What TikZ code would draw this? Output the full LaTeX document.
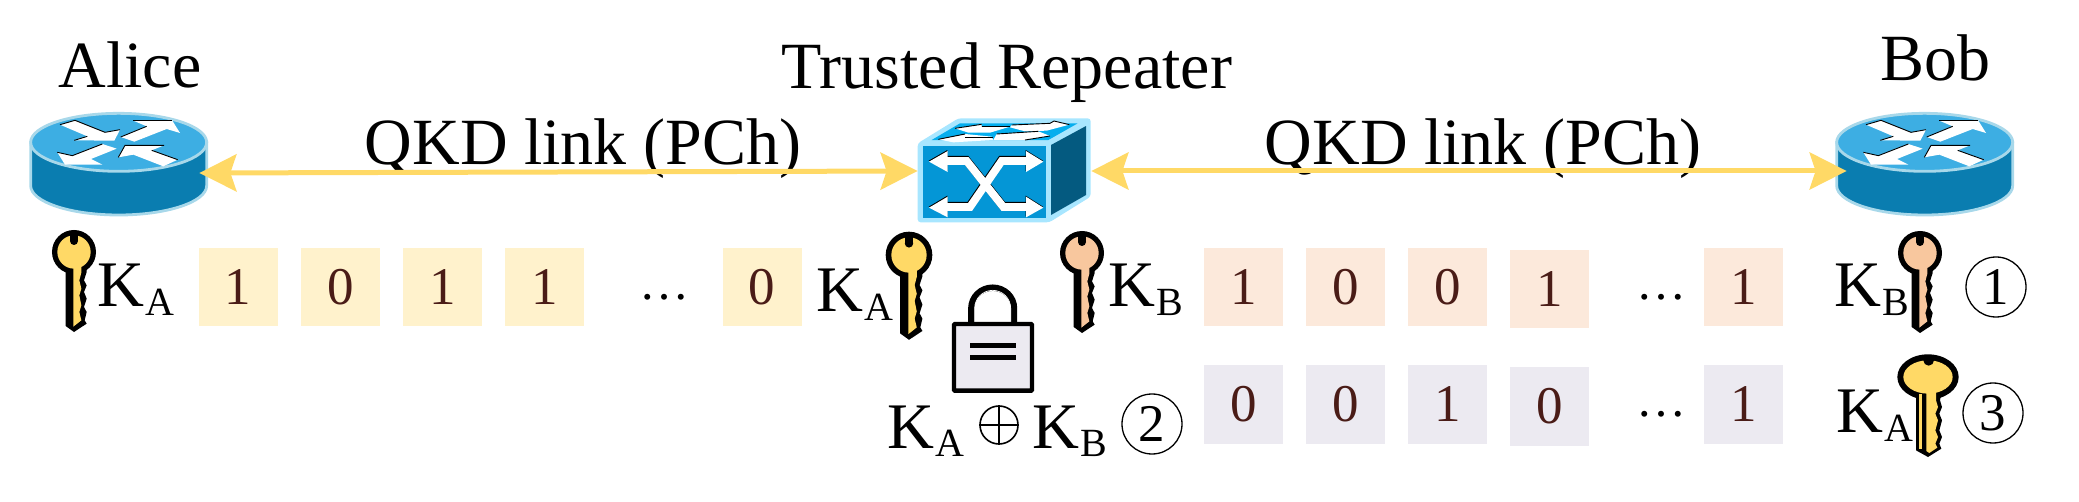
\documentclass[tikz,border=0pt]{standalone}
\usepackage{fontspec}
\setmainfont{Liberation Serif}
\usetikzlibrary{arrows.meta}
\definecolor{keyY}{HTML}{FFD966}
\definecolor{keyO}{HTML}{F8C79E}
\definecolor{boxY}{HTML}{FFF2CC}
\definecolor{boxO}{HTML}{FCE9DB}
\definecolor{boxP}{HTML}{ECEAF1}
\definecolor{digit}{HTML}{4A1C17}
\definecolor{rTop}{HTML}{3DAEE3}
\definecolor{rSide}{HTML}{0A7DB0}
\definecolor{rEdge}{HTML}{A8D8EA}
\definecolor{sEdge}{HTML}{A8E6FF}
\definecolor{sFront}{HTML}{0496D6}
\definecolor{sRight}{HTML}{045A80}
\definecolor{sTop}{HTML}{05AEEE}
\tikzset{
  bigtext/.style={font=\fontsize{33}{36}\selectfont,anchor=base,inner sep=0pt},
  keytext/.style={font=\fontsize{32.5}{36}\selectfont,anchor=base west,inner sep=0pt},
  bitbox/.style={minimum width=39.5pt,minimum height=39pt,inner sep=0pt,text=digit,font=\fontsize{26.5}{30}\selectfont},
  dotstext/.style={font=\fontsize{25}{30}\selectfont,anchor=base,inner sep=0pt},
  circnum/.style={circle,draw=black,line width=0.65pt,minimum size=30pt,inner sep=0pt,font=\fontsize{26.5}{30}\selectfont},
  anchorbox/.style={inner sep=0pt,rectangle},
  link/.style={draw=keyY,line width=2.5pt,{Stealth[length=18.5pt,width=18.5pt,inset=3pt]}-{Stealth[length=18.5pt,width=18.5pt,inset=3pt]}},
  edgeline/.style={draw=black,line width=0.45pt},
}
\newcommand{\KSub}[1]{K\kern0.5pt\raisebox{-4.5pt}{\fontsize{20}{22}\selectfont #1}}
\newcommand{\routericon}[1]{%
\begin{scope}[shift={(#1,20)},x=0.16667pt,y=-0.16667pt]
  \draw[rEdge,fill=rSide,line width=1.4pt] (92,367) -- (92,497) arc[start angle=180,end angle=0,x radius=264,y radius=88] -- (620,367) -- cycle;
  \draw[rEdge,fill=rTop,line width=1.4pt] (356,367) ellipse[x radius=264,y radius=87];
  \begin{scope}[shift={(75,264)}]
    \fill[white] (105,50)--(150,37)--(240,73)--(285,65)--(268,98)--(148,97)--(187,85)--cycle;
    \fill[white] (287,87)--(365,55)--(325,38)--(442,38)--(465,75)--(425,63)--(328,101)--cycle;
    \fill[white] (97,133)--(142,143)--(232,108)--(275,122)--(198,153)--(232,170)--(120,170)--cycle;
    \fill[white] (280,148)--(300,112)--(417,112)--(380,127)--(458,155)--(415,175)--(325,140)--cycle;
    \draw[edgeline] (105,50)--(150,37)--(240,73)--(285,65);
    \draw[edgeline] (148,97)--(187,85);
    \draw[edgeline] (287,87)--(365,55);
    \draw[black,line width=0.8pt] (325,38)--(442,38);
    \draw[edgeline] (97,133)--(142,143)--(232,108);
    \draw[edgeline] (280,148)--(300,112)--(417,112);
    \draw[edgeline] (380,127)--(458,155);
  \end{scope}
\end{scope}}
\newcommand{\keyicon}[4]{%
\begin{scope}[shift={(#1,#2)},x={#3*0.16667pt},y={-#3*0.16667pt}]
  \fill[black] (0,0) circle[radius=66];
  \fill[black] (-25,40)--(-25,222)--(0,240)--(38,215)--(32,205)--(38,180)--(30,165)--(38,140)--(30,120)--(38,100)--(30,85)--(38,60)--(38,40)--cycle;
  \fill[#4] (0,0) circle[radius=50];
  \fill[#4] (-2,45)--(-2,224)--(22,205)--(16,180)--(22,160)--(16,130)--(22,110)--(16,85)--(22,62)--(22,45)--cycle;
  \fill[black] (-12,-60) rectangle (12,-33);
  \fill[black] (0,-33) circle[radius=12];
\end{scope}}
\begin{document}
\begin{tikzpicture}[x=0.5pt,y=-0.5pt]
\useasboundingbox (0,0) rectangle (2079,502);
% labels
\node[bigtext] (alicename) at (130,88) {Alice};
\node[bigtext] (repname) at (1007,89) {Trusted Repeater};
\node[bigtext] (bobname) at (1935,81) {Bob};
\node[bigtext] (qkdone) at (583,165) {QKD link (PCh)};
\node[bigtext] (qkdtwo) at (1483,165) {QKD link (PCh)};
% routers
\routericon{0}
\routericon{1806}
\node[anchorbox,minimum width=88.5pt,minimum height=51pt] (alice) at (118.5,164) {};
\node[anchorbox,minimum width=88pt,minimum height=51pt] (bob) at (1924,164) {};
% switch
\begin{scope}[shift={(780,20)},x=0.16667pt,y=-0.16667pt]
  \fill[sEdge,rounded corners=1.5pt] (413,370)--(535,295)--(932,295)--(932,530)--(808,607)--(413,607)--cycle;
  \fill[sFront] (430,378) rectangle (798,593);
  \fill[sRight] (813,375)--(918,318)--(918,525)--(813,585)--cycle;
  \fill[sTop] (455,360)--(540,310)--(893,310)--(805,360)--cycle;
  \begin{scope}[shift={(390,270)}]
    \fill[white] (135,55)--(215,43)--(215,50)--(300,50)--(240,68)--(175,68)--cycle;
    \fill[white] (305,45)--(420,40)--(432,33)--(478,44)--(410,62)--(345,64)--(300,52)--cycle;
    \fill[white] (85,88)--(165,72)--(245,80)--(250,90)--(130,97)--cycle;
    \fill[white] (260,72)--(385,64)--(420,78)--(345,90)--(250,90)--cycle;
    \draw[edgeline] (135,55)--(215,43);
    \draw[edgeline] (215,50)--(300,50);
    \draw[edgeline] (305,45)--(420,40)--(432,33)--(478,44);
    \draw[edgeline] (85,88)--(165,72);
    \draw[edgeline] (165,82)--(250,82);
    \draw[edgeline] (260,72)--(385,64);
    \draw[edgeline] (345,90)--(420,78);
  \end{scope}
  % front arrows: shadow
  \begin{scope}[shift={(-1,-3)}]
    \fill[black] (447,425)--(503,393)--(503,456)--cycle;
    \fill[black] (790,425)--(738,393)--(738,456)--cycle;
    \fill[black] (447,563)--(503,530)--(503,592)--cycle;
    \fill[black] (790,563)--(738,530)--(738,592)--cycle;
    \draw[black,line width=4.1pt,miter limit=2] (500,423)--(560,423)--(670,561)--(740,561);
    \draw[black,line width=4.1pt,miter limit=2] (500,561)--(570,561)--(665,423)--(740,423);
  \end{scope}
  \fill[white] (447,425)--(503,393)--(503,456)--cycle;
  \fill[white] (790,425)--(738,393)--(738,456)--cycle;
  \fill[white] (447,563)--(503,530)--(503,592)--cycle;
  \fill[white] (790,563)--(738,530)--(738,592)--cycle;
  \draw[white,line width=3.9pt,miter limit=2] (500,423)--(560,423)--(670,561)--(740,561);
  \draw[white,line width=3.9pt,miter limit=2] (500,561)--(570,561)--(665,423)--(740,423);
\end{scope}
\node[anchorbox,minimum width=86.5pt,minimum height=52pt] (repeater) at (1004.5,170) {};
% links
\draw[link] ([xshift=-4pt,yshift=-4.5pt]alice.east) -- ([yshift=-0.5pt]repeater.west);
\draw[link] ([yshift=-0.5pt]repeater.east) -- ([xshift=5.5pt,yshift=-3.5pt]bob.west);
% keys
\keyicon{74}{252}{1}{keyY}
\keyicon{909}{255}{1.06}{keyY}
\keyicon{1082}{253}{1}{keyO}
\keyicon{1920}{253}{1}{keyO}
\begin{scope}[shift={(1928,377)},x=0.16667pt,y=-0.16667pt]
  \fill[black] (0,0) ellipse[x radius=92,y radius=68];
  \fill[black] (-36,40)--(-36,220)--(0,240)--(40,215)--(34,200)--(42,180)--(34,160)--(42,130)--(34,110)--(42,90)--(36,70)--(42,40)--cycle;
  \fill[keyY] (0,0) ellipse[x radius=74,y radius=50];
  \fill[keyY] (-5,40)--(-5,222)--(4,228)--(28,212)--(22,200)--(30,180)--(22,160)--(30,130)--(22,110)--(30,90)--(24,70)--(24,40)--cycle;
  \fill[keyY] (-28,50) rectangle (-18,215);
  \fill[black] (2,-50) circle[radius=16];
\end{scope}
% lock
\begin{scope}[shift={(780,20)},x=0.16667pt,y=-0.16667pt]
  \draw[black,line width=3.2pt] (574,912)--(574,865) arc[start angle=180,end angle=360,x radius=64,y radius=62]--(702,912);
  \draw[white,line width=0.35pt] (584,910)--(584,865) arc[start angle=180,end angle=360,x radius=54,y radius=54]--(692,910);
  \draw[black,line width=2.2pt,fill=boxP,rounded corners=0.5pt] (522,912) rectangle (756,1112);
  \draw[black,line width=2.8pt] (570,977)--(708,977);
  \draw[black,line width=2.8pt] (570,1012)--(708,1012);
\end{scope}
% key labels
\node[keytext] (ka1) at (97,307) {\KSub{A}};
\node[keytext] (ka2) at (816,312) {\KSub{A}};
\node[keytext] (kb1) at (1108,307) {\KSub{B}};
\node[keytext] (kb2) at (1834,307) {\KSub{B}};
\node[keytext] (ka3) at (1836,432) {\KSub{A}};
\node[keytext] (ka4) at (887,448) {\KSub{A}};
\node[keytext] (kb3) at (1032,448) {\KSub{B}};
\node[circle,minimum size=19.5pt,inner sep=0pt] (xorsym) at (999,425) {};
\draw[black,line width=0.8pt] (xorsym.north) -- (xorsym.south);
\draw[black,line width=0.8pt] (xorsym.west) -- (xorsym.east);
\draw[black,line width=0.8pt] (xorsym.center) circle[radius=19];
\node[circnum] (stepone) at (1996,287) {1};
\node[circnum] (steptwo) at (1152,424) {2};
\node[circnum] (stepthree) at (1993,413) {3};
% bit rows
\foreach \x/\d [count=\i] in {238/1,340.5/0,442.5/1,544.5/1,762/0}
  \node[bitbox,fill=boxY] (ya\i) at (\x,287.5) {\d};
\foreach \x/\d/\y [count=\i] in {1243.5/1/287.5,1345.5/0/287.5,1447.5/0/287.5,1549.5/1/289.5,1743.5/1/287.5}
  \node[bitbox,fill=boxO] (ob\i) at (\x,\y) {\d};
\foreach \x/\d/\y [count=\i] in {1243.5/0/404.5,1345.5/0/404.5,1447.5/1/404.5,1549.5/0/406.5,1743.5/1/404.5}
  \node[bitbox,fill=boxP] (pc\i) at (\x,\y) {\d};
\node[dotstext] (dotsa) at (664,300) {…};
\node[dotstext] (dotsb) at (1661,300) {…};
\node[dotstext] (dotsc) at (1661,416) {…};
\end{tikzpicture}
\end{document}
